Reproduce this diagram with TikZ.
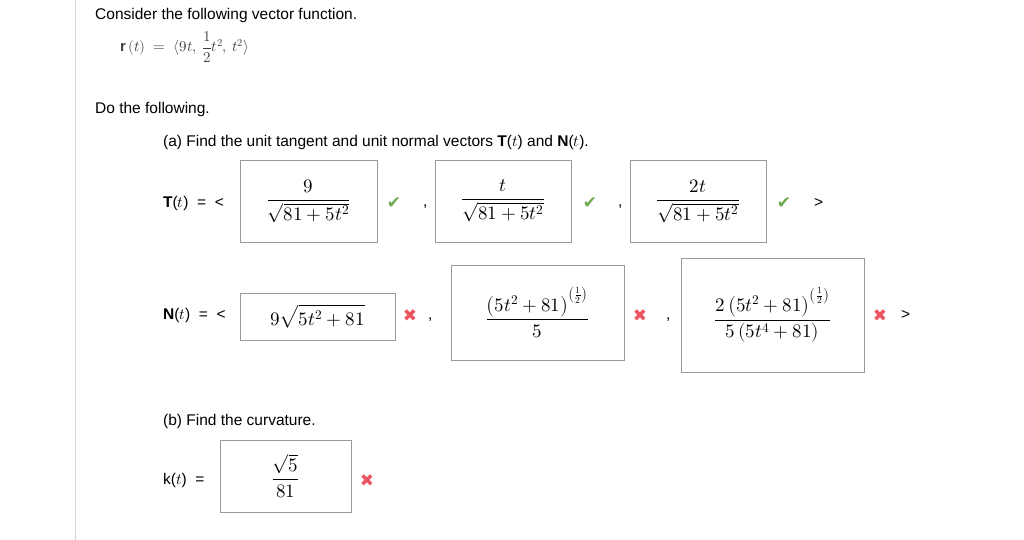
\documentclass[tikz,border=0pt]{standalone}
\usepackage{amsmath}
\usepackage{fontspec}
\setmainfont{Liberation Sans}
\newfontfamily\symfont{DejaVu Sans}
\usepackage{unicode-math}
\setmathfont{Latin Modern Math}
\usetikzlibrary{positioning}
\definecolor{okgreen}{RGB}{110,170,80}
\definecolor{badred}{RGB}{235,85,95}
\definecolor{rulegray}{RGB}{215,215,215}
\newcommand{\okmark}{{\symfont\color{okgreen}\char"2714}}
\newcommand{\badmark}{{\symfont\color{badred}\char"2716}}
\newcommand{\ansmath}[1]{\fontsize{19}{22}\selectfont$\displaystyle #1$}

\begin{document}
\begin{tikzpicture}[x=1pt,y=-1pt,
	txt/.style={anchor=west,inner sep=0pt,font=\fontsize{15.5}{18}\selectfont},
	ansbox/.style={draw=gray!80,line width=0.8pt,inner sep=0pt},
	markbox/.style={font=\fontsize{17}{18}\selectfont}]

	\useasboundingbox (0,0) rectangle (1024,540);
	\draw[rulegray] (75,0) -- (75,540);

	\node[txt] (intro) at (95,15) {Consider the following vector function.};
	\node[txt,anchor=west,text=black!75] (rfun) at (120,47)
		{\fontsize{15}{18}\selectfont$\mathbf{r}\,(t)\;=\;\langle 9t,\,\dfrac{1}{2}t^2,\,t^2\rangle$};
	\node[txt] (todo) at (95,109) {Do the following.};
	\node[txt] (parta) at (163,142) {(a) Find the unit tangent and unit normal vectors \textbf{T}($t$) and \textbf{N}($t$).};

	% T(t)
	\node[txt] (Tlab) at (163,203) {\textbf{T}($t$) \ = \ <};
	\node[ansbox,minimum width=137,minimum height=82] (T1) at (308.5,201) {\ansmath{\frac{9}{\sqrt{81+5t^2}}}};
	\node[ansbox,minimum width=136,minimum height=82] (T2) at (503,201) {\ansmath{\frac{t}{\sqrt{81+5t^2}}}};
	\node[ansbox,minimum width=136,minimum height=82] (T3) at (698,201) {\ansmath{\frac{2t}{\sqrt{81+5t^2}}}};
	\node[markbox] (c1) at (394,203) {\okmark};
	\node[markbox] (c2) at (590,203) {\okmark};
	\node[markbox] (c3) at (784,203) {\okmark};
	\node[txt] (cm1) at (423,207) {,};
	\node[txt] (cm2) at (618,207) {,};
	\node[txt] (Tend) at (814,203) {>};

	% N(t)
	\node[txt] (Nlab) at (163,315) {\textbf{N}($t$) \ = \ <};
	\node[ansbox,minimum width=155,minimum height=47] (N1) at (317.5,316.5) {\ansmath{9\sqrt{5t^2+81}}};
	\node[ansbox,minimum width=173,minimum height=95] (N2) at (537.5,312.5)
		{\ansmath{\frac{\left(5t^2+81\right)^{\left(\frac{1}{2}\right)}}{5}}};
	\node[ansbox,minimum width=183,minimum height=114] (N3) at (772.5,315)
		{\ansmath{\frac{2\left(5t^2+81\right)^{\left(\frac{1}{2}\right)}}{5\left(5t^4+81\right)}}};
	\node[markbox] (x1) at (410,316) {\badmark};
	\node[markbox] (x2) at (640,316) {\badmark};
	\node[markbox] (x3) at (880,316) {\badmark};
	\node[txt] (cm3) at (428,320) {,};
	\node[txt] (cm4) at (666,320) {,};
	\node[txt] (Nend) at (901,315) {>};

	% curvature
	\node[txt] (partb) at (163,421) {(b) Find the curvature.};
	\node[txt] (klab) at (163,480) {k($t$) \ =};
	\node[ansbox,minimum width=131,minimum height=72] (K1) at (285.5,476) {\ansmath{\frac{\sqrt{5}}{81}}};
	\node[markbox] (x4) at (367,481) {\badmark};

\end{tikzpicture}
\end{document}
